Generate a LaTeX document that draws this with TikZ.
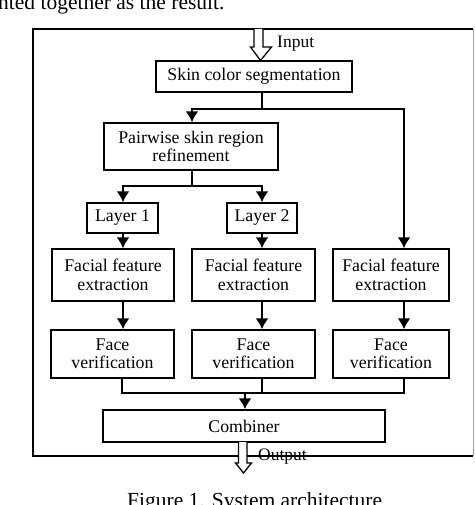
\documentclass[tikz,border=0pt]{standalone}
\usepackage{fontspec}
\setmainfont{Liberation Serif}
\usetikzlibrary{arrows.meta}
\begin{document}
\begin{tikzpicture}[x=1pt,y=-1pt,
  box/.style={draw, line width=1.4pt, font=\fontsize{17.8}{18.5}\selectfont, align=center, inner sep=0pt},
  ln/.style={line width=1.9pt, line join=miter},
  arr/.style={line width=1.9pt, line join=miter, -{Latex[length=11pt,width=13pt]}},
  hollow/.style={draw, line width=1.3pt, fill=white, line join=miter},
  lbl/.style={font=\fontsize{17.5}{18}\selectfont, inner sep=0pt, anchor=west},
  prose/.style={font=\fontsize{21.5}{24}\selectfont, inner sep=0pt, anchor=base west}
]
\useasboundingbox (0,0) rectangle (474,505);
% page text
\node[prose] (topline) at (-2,10) {nted together as the result.};
\node[prose] (caption) at (127,507) {Figure 1. System architecture};
% frame
\draw[line width=1.5pt] (473,29) -- (33,29) -- (33,456) -- (473,456);
\draw[line width=0.6pt, black!35] (473,29) -- (473,456);
% boxes
\node[box, minimum width=196pt, minimum height=31pt] (seg) at (254,76.5) {Skin color segmentation};
\node[box, minimum width=174pt, minimum height=47pt] (pair) at (191,146.5) {Pairwise skin region\\refinement};
\node[box, minimum width=71pt, minimum height=30pt] (l1) at (122.5,218) {Layer 1};
\node[box, minimum width=70pt, minimum height=30pt] (l2) at (262,218) {Layer 2};
\node[box, minimum width=122pt, minimum height=52pt] (f1) at (113,275) {Facial feature\\extraction};
\node[box, minimum width=123pt, minimum height=52pt] (f2) at (253.5,275) {Facial feature\\extraction};
\node[box, minimum width=116pt, minimum height=52pt] (f3) at (391,275) {Facial feature\\extraction};
\node[box, minimum width=123pt, minimum height=48pt] (v1) at (112.5,354) {Face\\verification};
\node[box, minimum width=123pt, minimum height=48pt] (v2) at (253.5,354) {Face\\verification};
\node[box, minimum width=116pt, minimum height=48pt] (v3) at (391,354) {Face\\verification};
\node[box, minimum width=282pt, minimum height=32pt] (comb) at (244,426) {Combiner};
% input / output hollow arrows
\draw[hollow] (254,29) -- (254,47) -- (250.5,47) -- (260.5,60.5) -- (271.5,47) -- (263,47) -- (263,29);
\node[lbl] (inlbl) at (277,44) {Input};
\draw[hollow] (238.5,442) -- (238.5,463) -- (235.5,463) -- (243.5,473) -- (251.5,463) -- (247,463) -- (247,442);
\node[lbl] (outlbl) at (258,457) {Output};
% connectors
\coordinate (jtop) at (262,109);
\coordinate (jtl) at (192,109);
\coordinate (jtr) at (404,109);
\draw[ln] (jtop |- seg.south) -- (jtop);
\draw[arr] (jtop) -- (jtl) -- (jtl |- pair.north);
\draw[arr] (jtop) -- (jtr) -- (jtr |- f3.north);
\coordinate (jm) at (192,186);
\coordinate (jml) at (123,186);
\coordinate (jmr) at (262,186);
\draw[ln] (jm |- pair.south) -- (jm);
\draw[arr] (jm) -- (jml) -- (jml |- l1.north);
\draw[arr] (jm) -- (jmr) -- (jmr |- l2.north);
\draw[arr] (jml |- l1.south) -- (jml |- f1.north);
\draw[arr] (jmr |- l2.south) -- (jmr |- f2.north);
\draw[arr] (jml |- f1.south) -- (jml |- v1.north);
\draw[arr] (jmr |- f2.south) -- (jmr |- v2.north);
\draw[arr] (jtr |- f3.south) -- (jtr |- v3.north);
\coordinate (jbl) at (122,393);
\coordinate (jbm) at (262,393);
\coordinate (jbr) at (404,393);
\coordinate (jb) at (245,393);
\draw[ln] (jbl |- v1.south) -- (jbl) -- (jbr) -- (jbr |- v3.south);
\draw[ln] (jbm |- v2.south) -- (jbm);
\draw[arr] (jb) -- (jb |- comb.north);
\end{tikzpicture}
\end{document}
